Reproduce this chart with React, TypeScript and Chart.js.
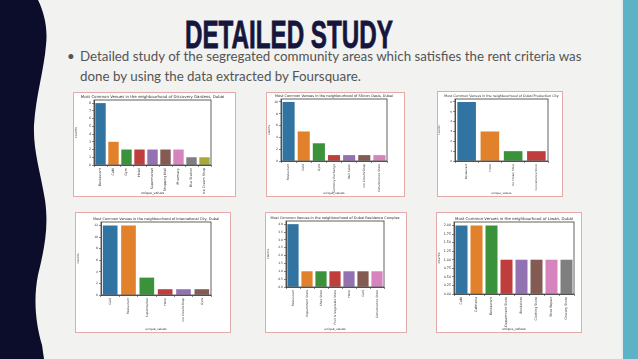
import React, { useEffect, useRef } from "react";
import { Chart, registerables } from "chart.js";

Chart.register(...registerables);

// ---------- data ----------
const dgLabels = ["Restaurant", "Café", "Gym", "Hotel", "Supermarket", "Shopping Mall", "Pharmacy", "Bus Station", "Ice Cream Shop"];
const dgCounts = [8, 3, 2, 2, 2, 2, 2, 1, 1];

const soLabels = ["Restaurant", "Café", "Gym", "Currency Exchange", "Nail Salon", "Ice Cream Shop", "Convenience Store"];
const soCounts = [10, 5, 3, 1, 1, 1, 1];

const pcLabels = ["Restaurant", "Hotel", "Ice Cream Shop", "Convenience Store"];
const pcCounts = [6, 3, 1, 1];

const icLabels = ["Café", "Restaurant", "Supermarket", "Hotel", "Ice Cream Shop", "Gym"];
const icCounts = [12, 12, 3, 1, 1, 1];

const rcLabels = ["Restaurant", "Department Store", "Shoe Store", "Fruit & Vegetable Store", "Hotel", "Café", "Convenience Store"];
const rcCounts = [4, 1, 1, 1, 1, 1, 1];

const lwLabels = ["Café", "Cafeteria", "Restaurant", "Department Store", "Bookstore", "Clothing Store", "Shoe Repair", "Grocery Store"];
const lwCounts = [2, 2, 2, 1, 1, 1, 1, 1];

const palette = ["#3274a1", "#e1812c", "#3a923a", "#c03d3e", "#9372b2", "#845b53", "#d684bd", "#7f7f7f", "#a9aa35"];

type Box = { x: number; y: number; w: number; h: number };
type Margins = { l: number; r: number; t: number; b: number };

type SpecProps = {
  box: Box;
  m: Margins;
  title: string;
  ts: number;
  labels: string[];
  values: number[];
  yMax: number;
  step: number;
  dec: number;
};

const AXIS = "#3a3a3a";
const TXT = "#2e2e2e";

function BarPanel(p: SpecProps) {
  const ref = useRef<HTMLCanvasElement | null>(null);
  useEffect(() => {
    if (!ref.current) return;
    const fs = p.ts * 0.85;
    const font = { size: fs, family: "DejaVu Sans" };
    const frame = {
      id: "frame",
      afterDraw(chart: any) {
        const { ctx, chartArea: a } = chart;
        ctx.save();
        ctx.strokeStyle = AXIS;
        ctx.lineWidth = 0.8;
        ctx.strokeRect(a.left, a.top, a.right - a.left, a.bottom - a.top);
        ctx.font = `${p.ts}px "DejaVu Sans"`;
        ctx.fillStyle = TXT;
        ctx.textAlign = "center";
        ctx.textBaseline = "bottom";
        ctx.fillText(p.title, (a.left + a.right) / 2, a.top - 1.5);
        ctx.restore();
      },
    };
    const chart = new Chart(ref.current, {
      type: "bar",
      data: {
        labels: p.labels,
        datasets: [
          {
            data: p.values,
            backgroundColor: palette.slice(0, p.values.length),
            borderWidth: 0,
            barPercentage: 0.8,
            categoryPercentage: 1,
          },
        ],
      },
      options: {
        animation: false,
        responsive: false,
        devicePixelRatio: 1,
        layout: { padding: { top: p.m.t, right: p.m.r, left: 0, bottom: 0 } },
        plugins: { legend: { display: false }, tooltip: { enabled: false }, title: { display: false } },
        scales: {
          x: {
            offset: true,
            grid: { display: true, drawOnChartArea: false, drawTicks: true, tickLength: 2, color: AXIS, lineWidth: 0.6 },
            border: { display: true, color: AXIS, width: 0.8 },
            ticks: { autoSkip: false, minRotation: 90, maxRotation: 90, font, color: TXT, padding: 1 },
            title: { display: true, text: "unique_values", font, color: TXT, padding: { top: 0, bottom: 1 } },
            afterFit: (s: any) => {
              s.height = p.m.b;
            },
          },
          y: {
            min: 0,
            max: p.yMax,
            grid: { display: true, drawOnChartArea: false, drawTicks: true, tickLength: 2, color: AXIS, lineWidth: 0.6 },
            border: { display: true, color: AXIS, width: 0.8 },
            ticks: {
              stepSize: p.step,
              includeBounds: false,
              font,
              color: TXT,
              padding: 1,
              callback: (v: any) => Number(v).toFixed(p.dec),
            },
            title: { display: true, text: "counts", font, color: TXT, padding: { top: 0, bottom: 1 } },
            afterFit: (s: any) => {
              s.width = p.m.l;
            },
          },
        },
      } as any,
      plugins: [frame],
    });
    return () => chart.destroy();
  }, []);
  const { box } = p;
  return (
    <div
      style={{
        position: "absolute",
        left: box.x,
        top: box.y,
        width: box.w,
        height: box.h,
        background: "#ffffff",
        border: "1px solid #e3aaaa",
        boxSizing: "border-box",
      }}
    >
      <canvas ref={ref} width={box.w - 2} height={box.h - 2} style={{ display: "block", width: box.w - 2, height: box.h - 2 }} />
    </div>
  );
}

const panels: SpecProps[] = [
  {
    box: { x: 73, y: 92, w: 163, h: 105 },
    m: { l: 20, r: 24, t: 7, b: 31 },
    title: "Most Common Venues in the neighbourhood of Discovery Gardens, Dubai",
    ts: 3.9,
    labels: dgLabels,
    values: dgCounts,
    yMax: 8.4,
    step: 1,
    dec: 0,
  },
  {
    box: { x: 266, y: 92, w: 139, h: 105 },
    m: { l: 14, r: 17, t: 6, b: 35 },
    title: "Most Common Venues in the neighbourhood of Silicon Oasis, Dubai",
    ts: 3.5,
    labels: soLabels,
    values: soCounts,
    yMax: 10.5,
    step: 2,
    dec: 0,
  },
  {
    box: { x: 437, y: 91, w: 126, h: 106 },
    m: { l: 17, r: 14, t: 7, b: 35 },
    title: "Most Common Venues in the neighbourhood of Dubai Production City",
    ts: 3.3,
    labels: pcLabels,
    values: pcCounts,
    yMax: 6.3,
    step: 1,
    dec: 0,
  },
  {
    box: { x: 75, y: 212, w: 156, h: 121 },
    m: { l: 25, r: 19, t: 9, b: 37 },
    title: "Most Common Venues in the neighbourhood of International City, Dubai",
    ts: 3.5,
    labels: icLabels,
    values: icCounts,
    yMax: 12.6,
    step: 2,
    dec: 0,
  },
  {
    box: { x: 265, y: 212, w: 142, h: 121 },
    m: { l: 20, r: 22, t: 8, b: 45 },
    title: "Most Common Venues in the neighbourhood of Dubai Residence Complex",
    ts: 3.5,
    labels: rcLabels,
    values: rcCounts,
    yMax: 4.2,
    step: 0.5,
    dec: 1,
  },
  {
    box: { x: 436, y: 212, w: 146, h: 121 },
    m: { l: 17, r: 7, t: 9, b: 38 },
    title: "Most Common Venues in the neighbourhood of Liwan, Dubai",
    ts: 3.9,
    labels: lwLabels,
    values: lwCounts,
    yMax: 2.1,
    step: 0.25,
    dec: 2,
  },
];

export default function App() {
  return (
    <div
      style={{
        position: "absolute",
        left: 0,
        top: 0,
        width: 638,
        height: 359,
        background: "#f2f2f1",
        overflow: "hidden",
      }}
    >
      <svg width={60} height={359} style={{ position: "absolute", left: 0, top: 0 }}>
        <path
          d="M0 0 L38 0 C44 12 48 28 46 45 C44 70 36 95 34 125 C33 150 40 170 45 200 C49 228 44 250 38 275 C33 300 36 325 42 345 L44 359 L0 359 Z"
          fill="#0c0c2b"
        />
      </svg>
      <div style={{ position: "absolute", left: 621, top: 0, width: 2, height: 359, background: "#e6eef0" }} />
      <div style={{ position: "absolute", left: 623, top: 0, width: 15, height: 359, background: "#5db2c6" }} />
      <div
        style={{
          position: "absolute",
          left: 185,
          top: 15,
          fontFamily: '"Liberation Sans", Arial, sans-serif',
          fontWeight: 700,
          fontSize: 39,
          lineHeight: "39px",
          color: "#15153d",
          whiteSpace: "nowrap",
          transform: "scaleX(0.62)",
          transformOrigin: "left top",
          WebkitTextStroke: "0.8px #15153d",
        }}
      >
        DETAILED STUDY
      </div>
      <div
        style={{
          position: "absolute",
          left: 67,
          top: 46,
          fontFamily: "Lato, sans-serif",
          fontSize: 13.35,
          lineHeight: "20px",
          color: "#555555",
          whiteSpace: "nowrap",
        }}
      >
        •
      </div>
      <div
        style={{
          position: "absolute",
          left: 80,
          top: 46,
          fontFamily: "Lato, sans-serif",
          fontSize: 13.35,
          lineHeight: "20px",
          color: "#555555",
          whiteSpace: "nowrap",
        }}
      >
        Detailed study of the segregated community areas which satisfies the rent criteria was
        <br />
        done by using the data extracted by Foursquare.
      </div>
      {panels.map((p, i) => (
        <BarPanel key={i} {...p} />
      ))}
    </div>
  );
}
